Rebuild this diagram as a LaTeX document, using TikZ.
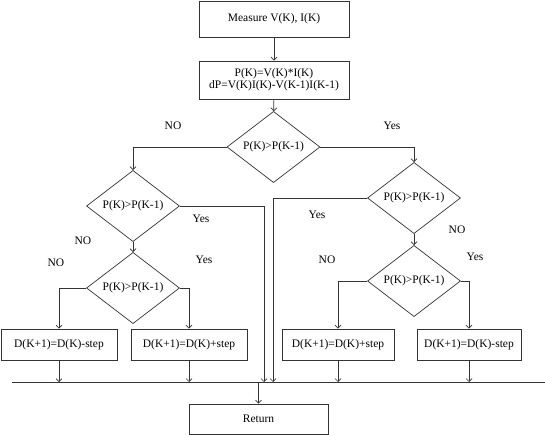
\documentclass[tikz,border=0pt]{standalone}
\usepackage{fontspec}
\setmainfont{Liberation Serif}
\usetikzlibrary{shapes.geometric,arrows.meta}
\begin{document}
\begin{tikzpicture}[x=1pt,y=-1pt,
  every node/.style={font=\fontsize{11.5}{12}\selectfont},
  box/.style={draw=black!80, line width=0.7pt, rectangle, inner sep=1pt, align=center},
  dia/.style={draw=black!80, line width=0.7pt, diamond, inner sep=0pt, minimum width=93pt, minimum height=69pt},
  lbl/.style={inner sep=0pt},
  arr/.style={draw=black!80, line width=0.7pt, -{Straight Barb[length=3pt,width=6pt]}},
  ln/.style={draw=black!80, line width=0.7pt}]
\useasboundingbox (0,0) rectangle (545,435);
% process boxes
\node[box, minimum width=150pt, minimum height=36pt] (m) at (274,19) {Measure V(K), I(K)};
\node[box, minimum width=150pt, minimum height=38pt] (p) at (274,80) {P(K)=V(K)*I(K)\\dP=V(K)I(K)-V(K-1)I(K-1)};
% decisions
\node[dia] (d1) at (273.5,147) {P(K)>P(K-1)};
\node[dia] (d2) at (133,206) {P(K)>P(K-1)};
\node[dia] (d3) at (414,198) {P(K)>P(K-1)};
\node[dia] (d4) at (133,288) {P(K)>P(K-1)};
\node[dia] (d5) at (414,281) {P(K)>P(K-1)};
% actions
\node[box, minimum width=116pt, minimum height=31pt] (b1) at (59,344.5) {D(K+1)=D(K)-step};
\node[box, minimum width=116pt, minimum height=31pt] (b2) at (189,344.5) {D(K+1)=D(K)+step};
\node[box, minimum width=112pt, minimum height=31pt] (b3) at (338,344.5) {D(K+1)=D(K)+step};
\node[box, minimum width=104pt, minimum height=31pt] (b4) at (469,344.5) {D(K+1)=D(K)-step};
\node[box, minimum width=139pt, minimum height=30pt] (ret) at (258.5,419) {Return};
% bus
\coordinate (busL) at (12,382);
\coordinate (busR) at (545,382);
\coordinate (j1) at (264,382);
\coordinate (j2) at (273,382);
\draw[ln] (busL) -- (busR);
% connectors
\draw[arr] (m) -- (p);
\draw[arr] (p) -- (d1);
\draw[arr] (d1.west) -| (d2.north);
\draw[arr] (d1.east) -| (d3.north);
\draw[arr] (d2.south) -- (d4.north);
\draw[arr] (d3.south) -- (d5.north);
\draw[arr] (d2.east) -| (j1);
\draw[arr] (d3.west) -| (j2);
\draw[arr] (d4.west) -| (b1.north);
\draw[arr] (d4.east) -| (b2.north);
\draw[arr] (d5.west) -| (b3.north);
\draw[arr] (d5.east) -| (b4.north);
\draw[arr] (b1.south) -- (b1.south |- busL);
\draw[arr] (b2.south) -- (b2.south |- busL);
\draw[arr] (b3.south) -- (b3.south |- busL);
\draw[arr] (b4.south) -- (b4.south |- busL);
\draw[arr] (ret.north |- busL) -- (ret.north);
% labels
\node[lbl] (l1) at (173,126) {NO};
\node[lbl] (l2) at (392,126) {Yes};
\node[lbl] (l3) at (201,219) {Yes};
\node[lbl] (l4) at (83,241) {NO};
\node[lbl] (l5) at (56,263) {NO};
\node[lbl] (l6) at (204,260) {Yes};
\node[lbl] (l7) at (317,215) {Yes};
\node[lbl] (l8) at (457,230) {NO};
\node[lbl] (l9) at (327,260) {NO};
\node[lbl] (l10) at (475,257) {Yes};
\end{tikzpicture}
\end{document}
